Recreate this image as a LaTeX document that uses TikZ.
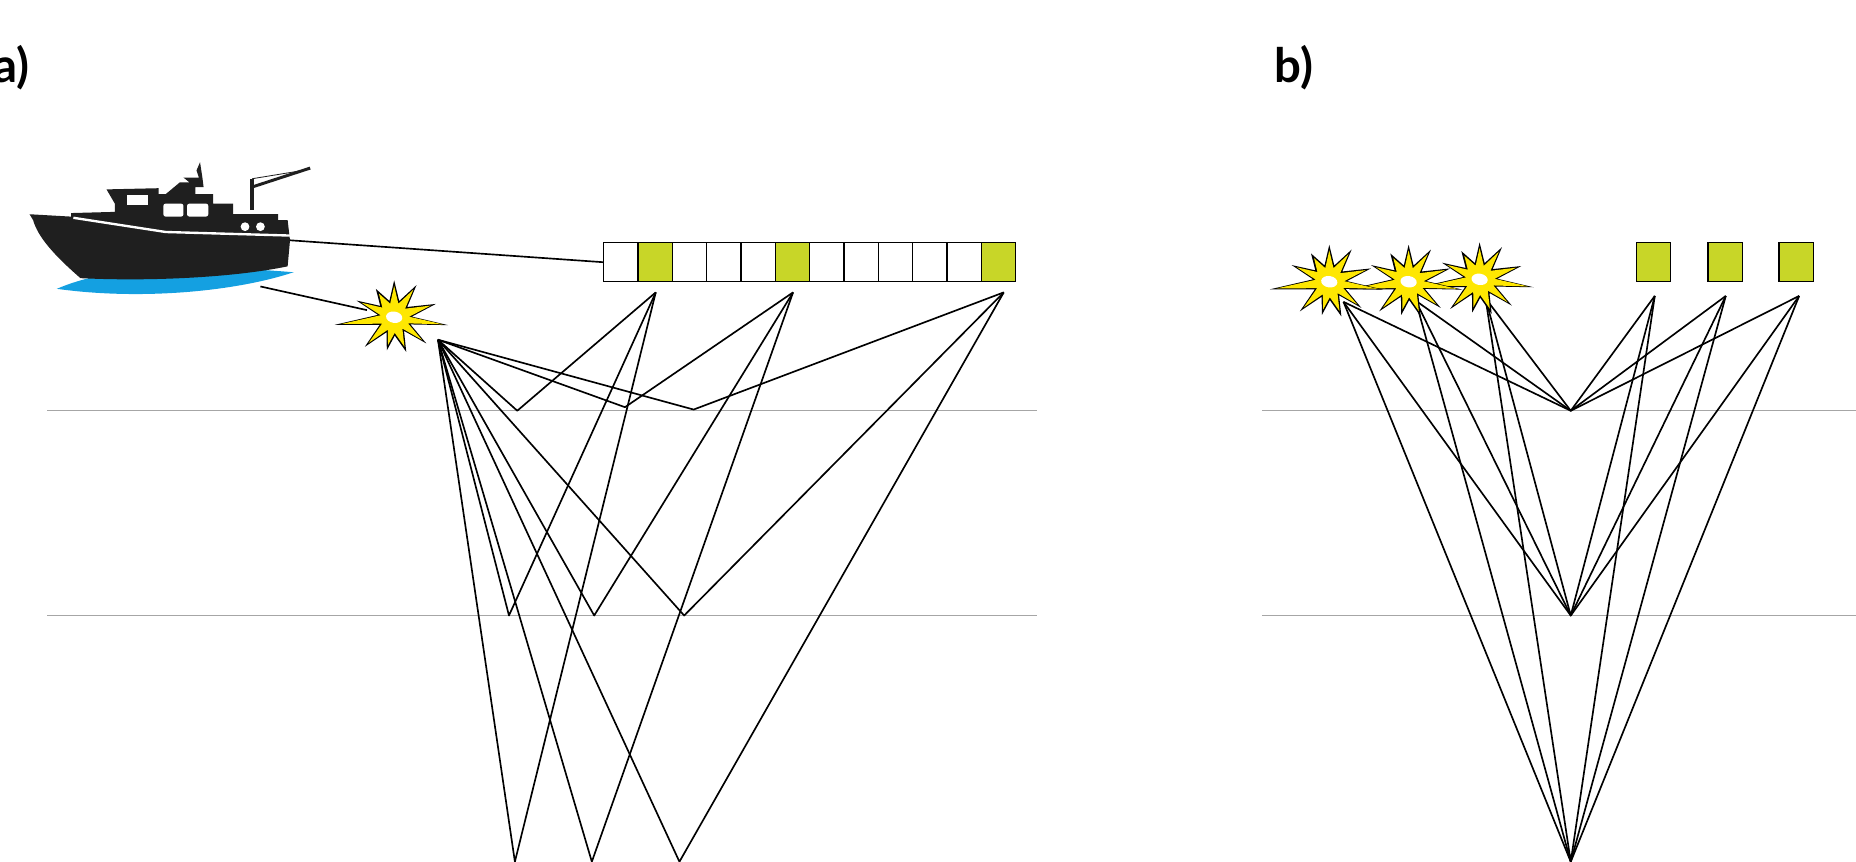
\documentclass[tikz,border=0pt]{standalone}
\usepackage{fontspec}
\setmainfont{Lato}
\begin{document}
\begin{tikzpicture}[x=1pt,y=-1pt,
  ray/.style={black,line width=1.4pt,line join=round},
  ground/.style={gray!70,line width=0.9pt},
  box/.style={draw=black,line width=1.2pt,fill=white,minimum width=29pt,minimum height=33pt,inner sep=0pt},
  lab/.style={font=\fontsize{40}{42}\selectfont\bfseries,inner sep=0pt},
  boat/.style={fill=black!88,draw=none}]
\useasboundingbox (0,0) rectangle (1568,728);
\definecolor{recv}{RGB}{200,214,40}
\definecolor{sea}{RGB}{20,160,225}
\tikzset{gbox/.style={box,fill=recv}}
\newcommand{\boomstar}[2]{%
 \begin{scope}[shift={(#1,#2)},xscale=1.15,yscale=1.2,rotate=-8]
  \fill[black] (0:40) -- (15:13) -- (30:30) -- (45:12) -- (62:26) -- (80:13) -- (95:24) -- (110:12) -- (128:30) -- (145:12) -- (165:44) -- (180:12) -- (195:30) -- (210:13) -- (228:24) -- (245:12) -- (262:26) -- (280:12) -- (298:28) -- (315:12) -- (335:32) -- (350:13) -- cycle;
  \fill[yellow!90!orange] (0:36) -- (15:11) -- (30:26) -- (45:10) -- (62:22) -- (80:11) -- (95:20) -- (110:10) -- (128:26) -- (145:10) -- (165:39) -- (180:10) -- (195:26) -- (210:11) -- (228:20) -- (245:10) -- (262:22) -- (280:10) -- (298:24) -- (315:10) -- (335:28) -- (350:11) -- cycle;
  \fill[white] (0,0) ellipse (6 and 4);
 \end{scope}}
% labels
\node[lab] (la) at (10,57) {a)};
\node[lab] (lb) at (1093,57) {b)};
% ground lines
\draw[ground] (40,347) -- (876,347);
\draw[ground] (40,520) -- (876,520);
\draw[ground] (1066,347) -- (1568,347);
\draw[ground] (1066,520) -- (1568,520);
% ---------- boat ----------
\fill[sea] (48,244) .. controls (90,226) and (150,222) .. (248,230) .. controls (200,246) and (120,254) .. (48,244) -- cycle;
\fill[boat] (25,181) -- (60,183) -- (60,180) -- (97,179) -- (97,172) -- (90,160) -- (134,159) -- (134,164) -- (180,164) -- (180,172) -- (197,172) -- (197,181) -- (235,181) -- (235,186) -- (243,186) -- (245,203) -- (243,225) .. controls (200,234) and (130,238) .. (68,235) .. controls (45,215) and (32,200) .. (28,186) -- cycle;
\fill[boat] (140,164) -- (152,154) -- (160,154) -- (155,150) -- (168,150) -- (166,144) -- (169,137) -- (171,150) -- (172,158) -- (165,158) -- (165,164) -- cycle;
\fill[white] (107,165) rectangle (125,173);
\fill[white,rounded corners=2pt] (138,172) rectangle (155,183);
\fill[white,rounded corners=2pt] (158,172) rectangle (176,183);
\fill[white] (207,191.5) circle (3.7);
\fill[white] (220,191.5) circle (3.7);
\draw[white,line width=2pt] (62,184) -- (140,196) -- (245,199);
\draw[black!88,line width=3pt] (213,177) -- (213,151);
\draw[black!88,line width=2.5pt] (213,158) -- (262,142);
\draw[black!88,line width=0.7pt] (213,151) -- (262,143);
\coordinate (stern) at (245,203);
\coordinate (stern2) at (220,242);
% ---------- panel a receivers ----------
\foreach \i/\s in {1/box,2/gbox,3/box,4/box,5/box,6/gbox,7/box,8/box,9/box,10/box,11/box,12/gbox}{
  \node[\s] (r\i) at ({510+14.5+29*(\i-1)},221.5) {};}
\coordinate (ra) at (554,247);
\coordinate (rb) at (670,247);
\coordinate (rc) at (848,247);
\boomstar{333}{268}
\coordinate (srcA) at (370,287);
\coordinate (starA) at (310,262);
\draw[ray] (stern) -- (r1.west);
\draw[ray] (stern2) -- (starA);
\coordinate (a1) at (437,347); \coordinate (a2) at (528,344); \coordinate (a3) at (586,346);
\coordinate (b1) at (430,520); \coordinate (b2) at (502,520); \coordinate (b3) at (578,520);
\coordinate (c1) at (435,728); \coordinate (c2) at (500,728); \coordinate (c3) at (574,728);
\foreach \p/\r in {a1/ra,a2/rb,a3/rc,b1/ra,b2/rb,b3/rc,c1/ra,c2/rb,c3/rc}{
  \draw[ray] (srcA) -- (\p) -- (\r);}
% ---------- panel b ----------
\node[gbox] (g1) at (1397,221.5) {};
\node[gbox] (g2) at (1457.5,221.5) {};
\node[gbox] (g3) at (1517.5,221.5) {};
\coordinate (q1) at (1398,250); \coordinate (q2) at (1458,250); \coordinate (q3) at (1520,250);
\coordinate (s1) at (1135,255); \coordinate (s2) at (1196,254); \coordinate (s3) at (1255,252);
\coordinate (m1) at (1327,347); \coordinate (m2) at (1327,520); \coordinate (m3) at (1327,728);
\foreach \s/\q in {s1/q3,s2/q2,s3/q1}{
  \foreach \m in {m1,m2,m3}{\draw[ray] (\s) -- (\m) -- (\q);}}
\boomstar{1250}{236}
\boomstar{1190}{238}
\boomstar{1123}{238}
\end{tikzpicture}
\end{document}
